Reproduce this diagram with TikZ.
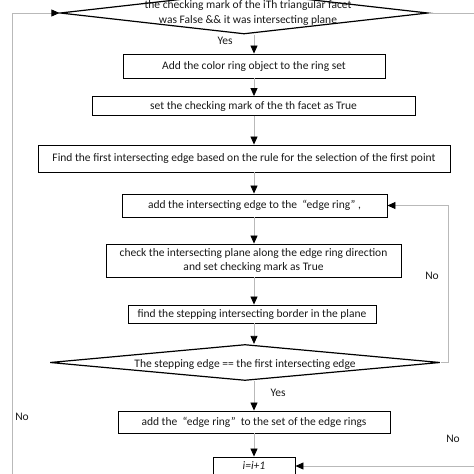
\documentclass[tikz,border=0pt]{standalone}
\usepackage{fontspec}
\setmainfont{Carlito}
\usetikzlibrary{arrows.meta,shapes.geometric}
\begin{document}
\begin{tikzpicture}[x=1pt,y=-1pt,
  font=\fontsize{11.5}{15}\selectfont,
  box/.style={draw=black, line width=0.9pt, inner sep=0pt, align=center, text=black!90},
  dec/.style={draw=black, line width=1.2pt, diamond, inner sep=0pt},
  flow/.style={draw=gray!55, line width=0.8pt, -{Triangle[length=8pt,width=7pt,color=black]}},
  plain/.style={draw=gray!55, line width=0.8pt},
  lbl/.style={text=black!90, inner sep=0pt}]
\useasboundingbox (0,0) rectangle (474,474);
\clip (0,0) rectangle (474,474);
\fill[white] (0,0) rectangle (474,474);
% decisions
\node[dec, minimum width=368pt, minimum height=42pt] (d1) at (244,13) {};
\node[lbl, align=center] (d1t) at (248,13) {the checking mark of the iTh triangular facet\\was False \&\& it was intersecting plane};
\node[dec, minimum width=390pt, minimum height=36pt] (d2) at (245,362.5) {};
\node[lbl] (d2t) at (245,364) {The stepping edge == the first intersecting edge};
% boxes
\node[box, minimum width=262pt, minimum height=24pt] (b1) at (254,66) {Add the color ring object to the ring set};
\node[box, minimum width=323pt, minimum height=19pt] (b2) at (253.5,106) {set the checking mark of the th facet as True};
\node[box, minimum width=412pt, minimum height=27pt] (b3) at (244,158.5) {Find the first intersecting edge based on the rule for the selection of the first point};
\node[box, minimum width=265pt, minimum height=23pt] (b4) at (254.5,205.5) {add the intersecting edge to the~~“edge ring”~,};
\node[box, minimum width=295pt, minimum height=33pt, font=\fontsize{11.5}{13.5}\selectfont] (b5) at (253.5,260.5) {check the intersecting plane along the edge ring direction\\and set checking mark as True};
\node[box, minimum width=248pt, minimum height=18pt] (b6) at (252,314) {find the stepping intersecting border in the plane};
\node[box, minimum width=272pt, minimum height=22pt] (b7) at (254,422) {add the~~“edge ring”~~to the set of the edge rings};
\node[box, minimum width=82pt, minimum height=18pt] (b8) at (254,466) {\textit{i=i+1}};
% main flow
\draw[flow] (b1.north |- d1.south) -- (b1.north);
\draw[flow] (b1.south) -- (b2.north -| b1.south);
\draw[flow] (b2.south -| b1.south) -- (b3.north -| b1.south);
\draw[flow] (b3.south -| b1.south) -- (b4.north -| b1.south);
\draw[flow] (b4.south -| b1.south) -- (b5.north -| b1.south);
\draw[flow] (b5.south -| b1.south) -- (b6.north -| b1.south);
\draw[flow] (b6.south -| b1.south) -- (d2.north -| b1.south);
\draw[flow] (d2.south -| b1.south) -- (b7.north -| b1.south);
\draw[flow] (b7.south -| b1.south) -- (b8.north -| b1.south);
% loops
\coordinate (rr) at (448,0);
\draw[flow] (d2.east) -- (d2.east -| rr) -- (b4.east -| rr) -- (b4.east);
\coordinate (lb) at (12,490);
\draw[flow] (lb) -- (lb |- d1.west) -- (d1.west);
\coordinate (re) at (490,10);
\draw[plain] (d1.east) -- (re |- d1.east);
\coordinate (rb) at (490,466);
\draw[flow] (rb |- b8.east) -- (b8.east);
% labels
\node[lbl] (y1) at (225,41) {Yes};
\node[lbl] (y2) at (278,393) {Yes};
\node[lbl] (n1) at (432,276) {No};
\node[lbl] (n2) at (22,417) {No};
\node[lbl] (n3) at (453,439) {No};
\end{tikzpicture}
\end{document}
